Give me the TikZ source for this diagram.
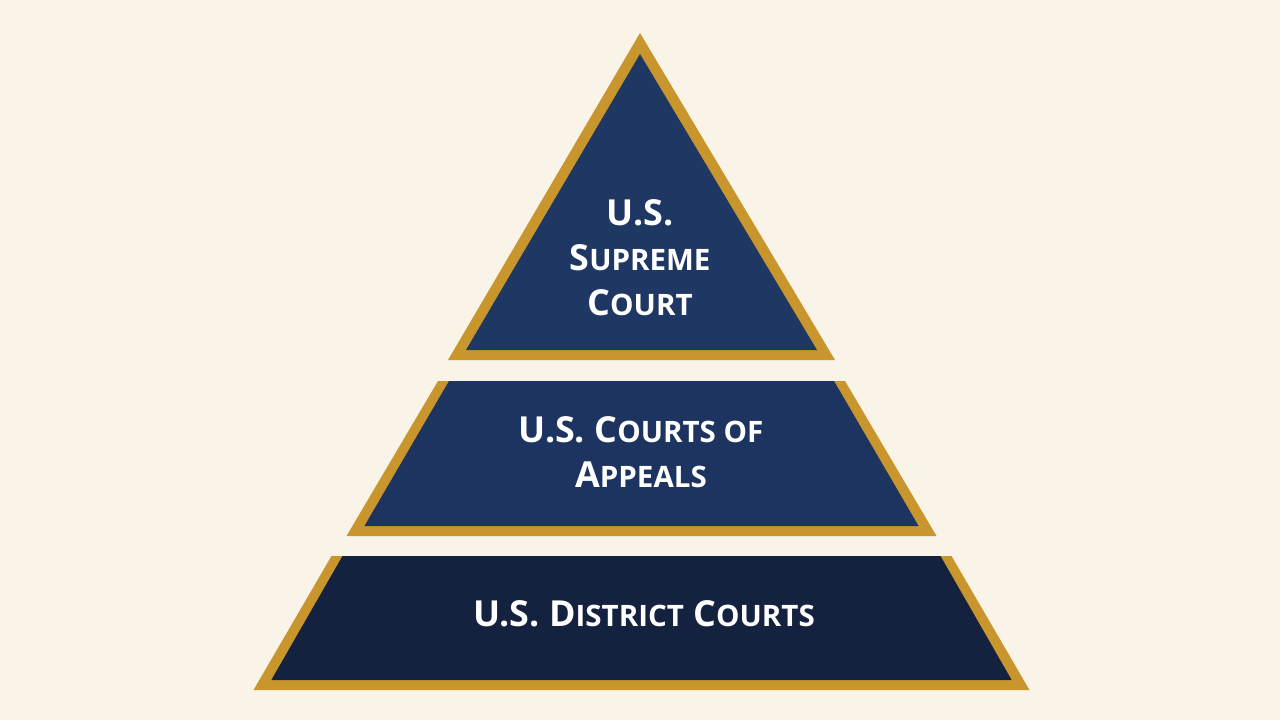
\documentclass[tikz,border=0pt]{standalone}
\usepackage{fontspec}
\setmainfont{Open Sans}
\usepackage{xcolor}
\usepackage{tikz}
\usetikzlibrary{calc}
\definecolor{cream}{HTML}{FAF3E7}
\definecolor{gold}{HTML}{C8962C}
\definecolor{navytop}{HTML}{1F3763}
\definecolor{navymid}{HTML}{1D3460}
\definecolor{navylow}{HTML}{15223F}
\tikzset{
  label/.style={text=white, font=\bfseries\fontsize{10.2}{12.8}\selectfont, align=center, inner sep=0pt}
}
% big first letter, rest in smaller capitals
\newcommand{\capsword}[2]{#1{\fontsize{8.4}{12.8}\selectfont #2}}
% #1 top y, #2 bottom y, #3 top half width, #4 bottom half width, #5 fill
\newcommand{\tier}[5]{
\fill[gold] ({641.5-#3}, #1) -- ({641.5+#3}, #1) -- ({641.5+#4}, #2) -- ({641.5-#4}, #2) -- cycle;
\fill[#5] ({641.5-#3+11}, #1) -- ({641.5+#3-11}, #1)
   -- ({641.5+#4-12-(#4-#3)*10/(#2-#1)}, #2-10)
   -- ({641.5-#4+12+(#4-#3)*10/(#2-#1)}, #2-10) -- cycle;
}

\begin{document}
\begin{tikzpicture}[x=0.1mm, y=-0.1mm]
\fill[cream] (0, 0) rectangle (1280, 720);
\useasboundingbox (0, 0) rectangle (1280, 720);
% top
\fill[gold] (640, 33) -- (835, 360) -- (448, 360) -- cycle;
\fill[navytop] (640, 54) -- (817, 350) -- (466, 350) -- cycle;
\node[label] (supreme) at (640, 258) {U.S.\\ \capsword{S}{UPREME}\\ \capsword{C}{OURT}};
% middle
\tier{381}{536}{203.5}{295}{navymid}
\node[label] (appeals) at (641, 452) {U.S. \capsword{C}{OURTS OF}\\ \capsword{A}{PPEALS}};
% bottom
\tier{556}{690}{310}{388}{navylow}
\node[label] (district) at (644, 614) {U.S. \capsword{D}{ISTRICT} \capsword{C}{OURTS}};
\end{tikzpicture}
\end{document}
